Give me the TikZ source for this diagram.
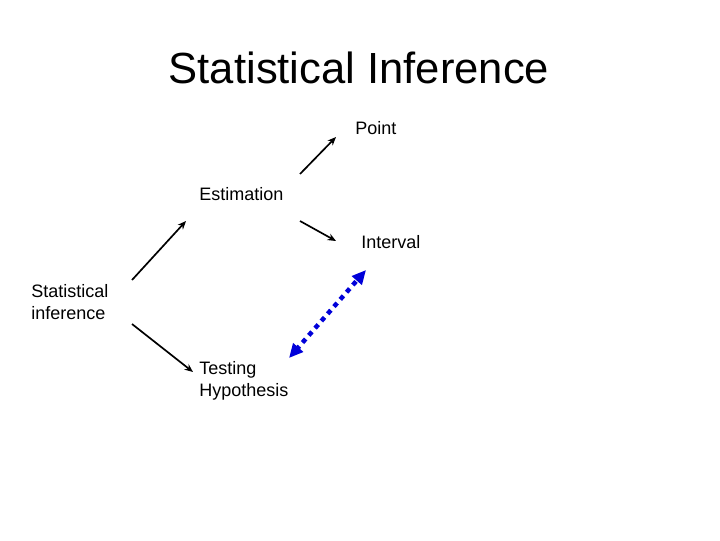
\documentclass[tikz,border=0pt]{standalone}
\usepackage{fontspec}
\setmainfont{Liberation Sans}
\usetikzlibrary{arrows.meta}
\tikzset{lbl/.style={anchor=west, inner sep=0pt, align=left, font=\fontsize{12.8}{15.6}\selectfont},
	arr/.style={-{Stealth[length=6pt,width=5pt]}, line width=1.2pt},
	dotarr/.style={{Triangle[length=10pt,width=9pt]}-{Triangle[length=10pt,width=9pt]}, draw=blue!85!black, line width=3.2pt, line cap=rect, dash pattern=on 0.2pt off 6.6pt}}

\begin{document}
\begin{tikzpicture}[x=0.025cm, y=-0.025cm]
			\useasboundingbox (0,0) rectangle (720,540);
			
			% title
			\node[inner sep=0pt, font=\fontsize{31}{36}\selectfont] (title) at (359,68) {Statistical Inference};
			
			% labels
			\node[lbl] (point) at (355,128) {Point};
			\node[lbl] (est) at (199,194) {Estimation};
			\node[lbl] (intv) at (361,242) {Interval};
			\node[lbl] (stat) at (31,302) {Statistical\\inference};
			\node[lbl] (test) at (199,381) {Testing\\Hypothesis};
			
			% arrow ends
			\coordinate (p0) at (300,174);
			\coordinate (p1) at (336,137);
			\coordinate (i0) at (300,221);
			\coordinate (i1) at (336,241);
			\coordinate (e0) at (132,280);
			\coordinate (e1) at (186,221);
			\coordinate (t0) at (132,324);
			\coordinate (t1) at (193,372);
			\coordinate (b0) at (289,358);
			\coordinate (b1) at (366,270);
			
			% arrows
			\draw[arr] (p0) -- (p1);
			\draw[arr] (i0) -- (i1);
			\draw[arr] (e0) -- (e1);
			\draw[arr] (t0) -- (t1);
			\draw[dotarr] (b0) -- (b1);
		\end{tikzpicture}
\end{document}
